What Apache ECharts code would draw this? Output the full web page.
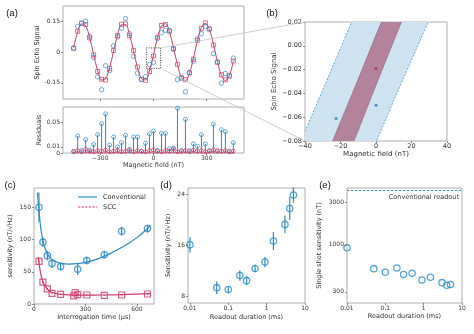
<!DOCTYPE html>
<html><head><meta charset="utf-8">
<script src="https://cdn.jsdelivr.net/npm/echarts@6/dist/echarts.min.js"></script>
<style>html,body{margin:0;padding:0;background:#fff}#c{width:474px;height:334px}</style>
</head><body><div id="c"></div>
<script>
// ---------- (a) spin echo vs magnetic field ----------
const fieldNT = [-450,-427.5,-405,-382.5,-360,-337.5,-315,-292.5,-270,-247.5,-225,-202.5,-180,-157.5,-135,-112.5,-90,-67.5,-45,-22.5,0,22.5,45,67.5,90,112.5,135,157.5,180,202.5,225,247.5,270,292.5,315,337.5,360,382.5,405,427.5,450];
const fitSignal = [0.021,0.097,0.137,0.128,0.071,-0.012,-0.091,-0.136,-0.131,-0.078,0.004,0.084,0.133,0.134,0.085,0.005,-0.077,-0.130,-0.136,-0.092,-0.014,0.070,0.127,0.138,0.098,0.022,-0.062,-0.123,-0.139,-0.104,-0.030,0.054,0.119,0.140,0.109,0.039,-0.046,-0.114,-0.140,-0.114,-0.047];
const sccSignal = [0.018,0.101,0.139,0.134,0.068,-0.014,-0.095,-0.133,-0.136,-0.080,0.007,0.080,0.135,0.137,0.079,0.007,-0.073,-0.133,-0.138,-0.096,-0.019,0.073,0.129,0.134,0.101,0.016,-0.060,-0.126,-0.135,-0.102,-0.035,0.057,0.115,0.142,0.112,0.034,-0.050,-0.111,-0.136,-0.116,-0.044];
const convSignal = [0.019,0.125,0.141,0.150,0.076,-0.026,-0.121,-0.184,-0.067,-0.091,0.030,0.074,0.116,0.163,0.089,-0.021,-0.103,-0.133,-0.120,-0.061,-0.050,0.066,0.095,0.106,0.105,0.014,-0.135,-0.127,-0.194,-0.100,-0.045,0.065,0.089,0.125,0.113,-0.008,-0.049,-0.152,-0.105,-0.117,-0.030];
const sccResidual = [0.003,0.004,0.002,0.006,0.003,0.002,0.004,0.003,0.005,0.002,0.003,0.004,0.002,0.003,0.006,0.002,0.004,0.003,0.002,0.004,0.005,0.003,0.002,0.004,0.003,0.006,0.002,0.003,0.004,0.002,0.005,0.003,0.004,0.002,0.003,0.005,0.004,0.003,0.004,0.002,0.003];
const convResidual = [0.002,0.028,0.004,0.022,0.005,0.014,0.030,0.048,0.064,0.013,0.026,0.010,0.017,0.029,0.004,0.026,0.026,0.003,0.016,0.031,0.036,0.004,0.032,0.032,0.007,0.008,0.073,0.004,0.055,0.004,0.015,0.011,0.030,0.015,0.004,0.047,0.003,0.038,0.035,0.003,0.017];
const zoomX = [-40, 40];
const zoomY = [-0.08, 0.02];
// ---------- (b) zoom: confidence bands ----------
const bandField = [-40,-30,-20,-10,0,10,20,30,40];
const convBandLow = [-0.220,-0.185,-0.150,-0.115,-0.081,-0.046,-0.012,0.022,0.056];
const convBandHigh = [-0.072,-0.037,-0.002,0.033,0.068,0.103,0.138,0.173,0.208];
const sccBandLow = [-0.183,-0.145,-0.108,-0.071,-0.033,0.004,0.041,0.078,0.115];
const sccBandHigh = [-0.136,-0.100,-0.064,-0.028,0.009,0.045,0.081,0.117,0.153];
// ---------- (c) sensitivity vs interrogation time ----------
const convTime = [29,52,78,105,155,255,308,410,511,662];
const convSens = [150,96,75,63,58,54,67.5,76.5,113,117];
const convErr = [23,7,7,7,6,9,6,6,7,6];
const sccTime = [29,52,78,105,155,232,240,255,308,410,511,662];
const sccSens = [66,34,23.5,16.5,15,12.5,17.5,14.5,14,13.5,14,15.5];
const sccErr = [2,2,1.5,1.5,1,1,1,1,1,1,1,1];
const convFitTime = [20,30,40,50,60,80,100,130,160,200,250,300,350,400,450,500,550,600,650,680];
const convFit = [173,142,117,101,90,77,70,65.5,63,62,62.5,64.5,68,73,79,86,94,103,114,122];
const sccFitTime = [25,30,40,50,60,80,100,130,160,200,300,400,500,600,680];
const sccFit = [73,62,46,36,30,22.5,18.5,16,15,14.3,13.8,14,14.5,15.3,16];
const legendNames = ['Conventional', 'SCC'];
// ---------- (d),(e) readout duration ----------
const readoutMs = [0.01,0.05,0.1,0.2,0.3,0.5,0.9,1.5,3,4,5];
const readoutSens = [16.1,9.4,9.1,11.3,10.5,12.4,13.4,16.7,19.3,21.8,23.9];
const readoutErr = [1.2,1.0,0.5,0.8,0.7,0.6,0.8,1.4,1.4,1.8,1.2];
const singleShot = [930,543,495,553,466,483,406,436,379,355,362];
const conventionalReadout = 4040;

const FONT = 'DejaVu Sans', INK = '#333';
const BLUE = '#2b8cc8', RED = '#cf3a64';
const chart = echarts.init(document.getElementById('c'), null, {width:474, height:334});

function minus(v, d) {
  if (Math.abs(v) < 1e-9) v = 0;
  const s = d == null ? String(Math.abs(v)) : Math.abs(v).toFixed(d);
  return v < 0 ? '\u2212' + s : s;
}
function ax(o) {
  const base = {
    axisLine:{show:false, onZero:false},
    axisTick:{show:true, inside:false, length:2, lineStyle:{color:'#444', width:0.6}},
    axisLabel:{fontSize:6, color:INK, fontFamily:FONT, margin:3},
    splitLine:{show:false},
    nameLocation:'middle',
    nameTextStyle:{fontSize:6.5, color:INK, fontFamily:FONT}
  };
  for (const k in o) {
    if (base[k] && typeof base[k] === 'object' && typeof o[k] === 'object') base[k] = Object.assign({}, base[k], o[k]);
    else base[k] = o[k];
  }
  return base;
}
const idx = i => ({xAxisIndex:i, yAxisIndex:i});
const pairs = (xs, ys) => xs.map((x, k) => [x, ys[k]]);
function markers(i, data, symbol, size, color, bw, z) {
  return Object.assign({type:'scatter', data, symbol, symbolSize:size,
    itemStyle:{color:'rgba(255,255,255,0)', borderColor:color, borderWidth:bw}, z:z || 4, silent:true}, idx(i));
}
function vbars(i, xs, lo, hi, color, w, z) {
  return Object.assign({type:'custom', data:xs.map((x, k) => [x, lo[k], hi[k]]), encode:{x:0, y:[1, 2]},
    renderItem:(p, api) => {
      const a = api.coord([api.value(0), api.value(1)]), b = api.coord([api.value(0), api.value(2)]);
      return {type:'line', shape:{x1:a[0], y1:a[1], x2:b[0], y2:b[1]}, style:{stroke:color, lineWidth:w}};
    }, z:z || 3, silent:true}, idx(i));
}
function band(i, xs, lo, hi, fill, edge, edgeW, dash, z) {
  return Object.assign({type:'custom', data:[[xs[0], lo[0]]], encode:{x:0, y:1}, silent:true, z,
    renderItem:(params, api) => {
      const low = xs.map((x, k) => api.coord([x, lo[k]]));
      const high = xs.map((x, k) => api.coord([x, hi[k]]));
      const cs = params.coordSys;
      const clip = () => ({type:'rect', shape:{x:cs.x, y:cs.y, width:cs.width, height:cs.height}});
      const edgeStyle = {stroke:edge, lineWidth:edgeW, fill:null, lineDash:dash};
      return {type:'group', children:[
        {type:'polygon', shape:{points:low.concat(high.slice().reverse())}, style:{fill:fill}, clipPath:clip()},
        {type:'polyline', shape:{points:low}, style:Object.assign({}, edgeStyle), clipPath:clip()},
        {type:'polyline', shape:{points:high}, style:Object.assign({}, edgeStyle), clipPath:clip()}
      ]};
    }}, idx(i));
}
const inWin = p => p[0] >= zoomX[0] && p[0] <= zoomX[1] && p[1] >= zoomY[0] && p[1] <= zoomY[1];
const zeros = fieldNT.map(() => 0);
const gs = {show:true, borderColor:'#9a9a9a', borderWidth:0.8, backgroundColor:'rgba(0,0,0,0)'};

const option = {
  animation:false,
  backgroundColor:'#fff',
  grid:[
    Object.assign({left:63, top:6, width:181, height:93}, gs),
    Object.assign({left:63, top:107, width:181, height:46}, gs),
    Object.assign({left:305, top:22, width:142, height:119}, gs),
    Object.assign({left:34, top:188, width:120, height:116}, gs),
    Object.assign({left:188, top:188, width:117, height:115}, gs),
    Object.assign({left:347, top:188, width:115, height:115}, gs)
  ],
  xAxis:[
    ax({type:'value', gridIndex:0, min:-510, max:510, axisLabel:{show:false}, axisTick:{customValues:[-300,0,300]}}),
    ax({type:'value', gridIndex:1, min:-510, max:510, axisTick:{customValues:[-300,0,300]},
        axisLabel:{customValues:[-300,0,300], formatter:v => minus(v), margin:2}, name:'Magnetic field (nT)', nameGap:8}),
    ax({type:'value', gridIndex:2, min:-40, max:40, interval:20, axisLabel:{formatter:v => minus(v), fontSize:6.5, margin:2},
        name:'Magnetic field (nT)', nameGap:10, nameTextStyle:{fontSize:7}}),
    ax({type:'value', gridIndex:3, min:0, max:700, axisTick:{customValues:[0,300,600]},
        axisLabel:{customValues:[0,300,600], margin:2}, name:'Interrogation time (\u00b5s)', nameGap:9.5}),
    ax({type:'log', gridIndex:4, min:0.0089, max:10, axisTick:{customValues:[0.01,0.1,1,10]},
        axisLabel:{customValues:[0.01,0.1,1,10], formatter:v => String(v), margin:2}, name:'Readout duration (ms)', nameGap:10.5}),
    ax({type:'log', gridIndex:5, min:0.01, max:10, axisTick:{customValues:[0.01,0.1,1,10]},
        axisLabel:{customValues:[0.01,0.1,1,10], formatter:v => String(v), margin:2}, name:'Readout duration (ms)', nameGap:9.5})
  ],
  yAxis:[
    ax({type:'value', gridIndex:0, min:-0.229, max:0.224, axisTick:{customValues:[-0.15,0,0.15]},
        axisLabel:{customValues:[-0.15,0,0.15], formatter:v => v === 0 ? '0' : (v < 0 ? '-' : '') + Math.abs(v).toFixed(2)},
        name:'Spin Echo Signal', nameGap:17}),
    ax({type:'value', gridIndex:1, min:0, max:0.075, axisTick:{customValues:[0,0.01,0.05]},
        axisLabel:{customValues:[0,0.01,0.05], formatter:v => v === 0 ? '0' : v.toFixed(2)}, name:'Residuals', nameGap:16.5}),
    ax({type:'value', gridIndex:2, min:-0.08, max:0.02, interval:0.02, axisLabel:{formatter:v => minus(v, 2), fontSize:6.5},
        name:'Spin Echo Signal', nameGap:27, nameTextStyle:{fontSize:7}}),
    ax({type:'value', gridIndex:3, min:0, max:180, axisTick:{customValues:[0,50,100,150]},
        axisLabel:{customValues:[0,50,100,150]}, name:'sensitivity (nT/\u221aHz)', nameGap:20}),
    ax({type:'value', gridIndex:4, min:7, max:25, axisTick:{customValues:[8,16,24]},
        axisLabel:{customValues:[8,16,24]}, name:'Sensitivity (nT/\u221aHz)', nameGap:16}),
    ax({type:'log', gridIndex:5, min:225, max:4300, axisTick:{customValues:[300,1000,3000]},
        axisLabel:{customValues:[300,1000,3000], formatter:v => String(v)}, name:'Single shot sensitivity (nT)', nameGap:24})
  ],
  series:[
    // (a) top
    Object.assign({type:'line', data:pairs(fieldNT, fitSignal), smooth:0.35, symbol:'none', lineStyle:{color:RED, width:1}, z:2, silent:true}, idx(0)),
    markers(0, pairs(fieldNT, sccSignal), 'rect', 4, RED, 0.9, 3),
    markers(0, pairs(fieldNT, convSignal), 'circle', 4.5, BLUE, 0.9, 4),
    Object.assign({type:'line', symbol:'none', silent:true, z:6,
      data:[[zoomX[0], zoomY[0]], [zoomX[1], zoomY[0]], [zoomX[1], zoomY[1]], [zoomX[0], zoomY[1]], [zoomX[0], zoomY[0]]],
      lineStyle:{color:'#555', width:1, type:[1.2, 1.2]}}, idx(0)),
    // (a) residuals
    Object.assign({type:'line', symbol:'none', silent:true, z:2,
      data:[[fieldNT[0], 0], [fieldNT[fieldNT.length - 1], 0]], lineStyle:{color:RED, width:1}}, idx(1)),
    vbars(1, fieldNT, zeros, convResidual, BLUE, 1, 3),
    markers(1, pairs(fieldNT, convResidual), 'circle', 4, BLUE, 0.9, 4),
    vbars(1, fieldNT, zeros, sccResidual, RED, 1, 5),
    markers(1, pairs(fieldNT, sccResidual), 'circle', 3.8, RED, 0.9, 6),
    // (b)
    band(2, bandField, convBandLow, convBandHigh, '#cde3f1', BLUE, 0.7, [2, 1.5], 1),
    band(2, bandField, sccBandLow, sccBandHigh, '#b3839c', '#9b5b7e', 0.6, null, 2),
    Object.assign({type:'scatter', data:pairs(fieldNT, sccSignal).filter(inWin), symbol:'circle', symbolSize:3, itemStyle:{color:'#b8284e'}, z:4, silent:true}, idx(2)),
    Object.assign({type:'scatter', data:pairs(fieldNT, convSignal).filter(inWin), symbol:'circle', symbolSize:3, itemStyle:{color:'#2a7ea8'}, z:4, silent:true}, idx(2)),
    // (c)
    Object.assign({name:legendNames[0], type:'line', data:pairs(convFitTime, convFit), smooth:0.3, symbol:'none', silent:true,
      lineStyle:{color:BLUE, width:1.2}, itemStyle:{color:BLUE}, z:2}, idx(3)),
    Object.assign({name:legendNames[1], type:'line', data:pairs(sccFitTime, sccFit), smooth:0.3, symbol:'none', silent:true,
      lineStyle:{color:RED, width:1.2}, itemStyle:{color:RED}, z:2}, idx(3)),
    vbars(3, convTime, convSens.map((v, k) => v - convErr[k]), convSens.map((v, k) => v + convErr[k]), BLUE, 1.2, 3),
    markers(3, pairs(convTime, convSens), 'circle', 6.3, BLUE, 1.3, 4),
    vbars(3, sccTime, sccSens.map((v, k) => v - sccErr[k]), sccSens.map((v, k) => v + sccErr[k]), RED, 1.2, 3),
    markers(3, pairs(sccTime, sccSens), 'rect', 6, RED, 1.2, 4),
    // (d)
    vbars(4, readoutMs, readoutSens.map((v, k) => v - readoutErr[k]), readoutSens.map((v, k) => v + readoutErr[k]), BLUE, 1.2, 3),
    markers(4, pairs(readoutMs, readoutSens), 'circle', 6.3, BLUE, 1.3, 4),
    // (e)
    Object.assign({type:'line', symbol:'none', silent:true, z:2,
      data:[[0.01, conventionalReadout], [10, conventionalReadout]], lineStyle:{color:BLUE, width:1, type:[2.5, 1.5]}}, idx(5)),
    markers(5, pairs(readoutMs, singleShot), 'circle', 6.3, BLUE, 1.3, 4)
  ]
};
chart.setOption(option);

const p1 = chart.convertToPixel({gridIndex:0}, [zoomX[1], zoomY[1]]);
const p2 = chart.convertToPixel({gridIndex:0}, [zoomX[1], zoomY[0]]);
const q1 = chart.convertToPixel({gridIndex:2}, [zoomX[0], zoomY[1]]);
const q2 = chart.convertToPixel({gridIndex:2}, [zoomX[0], zoomY[0]]);
const txt = (x, y, s, extra) => Object.assign({type:'text', x, y, style:Object.assign({text:s, fill:'#111', font:'9.5px "Liberation Sans"', textAlign:'center', textVerticalAlign:'middle'}, extra || {}), silent:true, z:50});
const small = {font:'6.5px "DejaVu Sans"', fill:INK, textAlign:'left'};
chart.setOption({graphic:[
  {type:'line', shape:{x1:p1[0], y1:p1[1], x2:q1[0], y2:q1[1]}, style:{stroke:'#c2c2c2', lineWidth:0.8}, silent:true, z:40},
  {type:'line', shape:{x1:p2[0], y1:p2[1], x2:q2[0], y2:q2[1]}, style:{stroke:'#c2c2c2', lineWidth:0.8}, silent:true, z:40},
  txt(12, 13, '(a)'), txt(272, 13, '(b)'), txt(10, 185, '(c)'), txt(166, 185, '(d)'), txt(325, 185, '(e)'),
  txt(459, 197, 'Conventional readout', {font:'6.5px "DejaVu Sans"', fill:INK, textAlign:'right'}),
  // legend of (c)
  {type:'line', shape:{x1:78, y1:197, x2:97, y2:197}, style:{stroke:BLUE, lineWidth:1.2}, silent:true, z:40},
  {type:'line', shape:{x1:78, y1:207, x2:97, y2:207}, style:{stroke:RED, lineWidth:1, lineDash:[2.2, 1.4]}, silent:true, z:40},
  txt(103, 197, legendNames[0], small),
  txt(103, 207, legendNames[1], small)
]});
</script></body></html>
